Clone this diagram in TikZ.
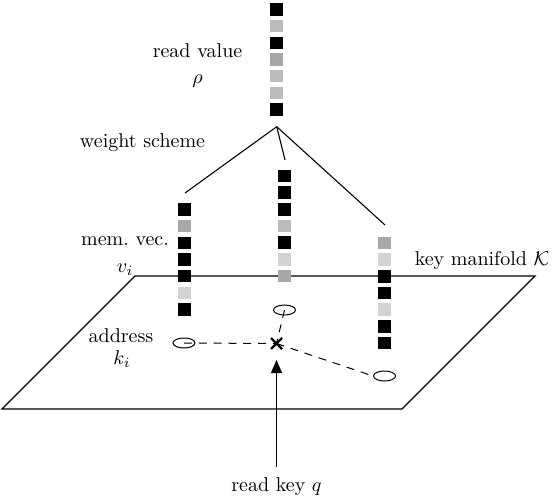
\documentclass[tikz,border=0pt]{standalone}
\usetikzlibrary{arrows.meta,shapes.geometric,calc}
\definecolor{gm}{HTML}{A8A8A8}
\definecolor{gl}{HTML}{BCBCBC}
\definecolor{gx}{HTML}{D3D3D3}
\definecolor{bk}{HTML}{000000}
\tikzset{
  sq/.style={rectangle,inner sep=0pt,minimum size=6.25pt,draw=none},
  addr/.style={ellipse,draw,line width=0.5pt,inner sep=0pt,minimum width=11pt,minimum height=5pt},
  lbl/.style={anchor=base,inner sep=0pt,font=\normalsize},
  link/.style={line width=0.55pt},
  dashlink/.style={dash pattern=on 4pt off 3.4pt,line width=0.5pt},
}
\begin{document}
\begin{tikzpicture}[x=0.5pt,y=-0.5pt]
\useasboundingbox (0,0) rectangle (555,496);
% key manifold plane
\draw[link] (135,276) coordinate (p1) -- (535,276) coordinate (p2) -- (402,409) coordinate (p3) -- (2,409) coordinate (p4) -- cycle;
% read value column
\foreach \c [count=\i] in {bk,gl,bk,gm,gl,gl,bk}
  \node[sq,fill=\c] (T\i) at (276.5,{9.5+(\i-1)*16.67}) {};
% memory columns
\foreach \c [count=\i] in {bk,gm,bk,bk,bk,gx,bk}
  \node[sq,fill=\c] (L\i) at (184.5,{209.5+(\i-1)*16.67}) {};
\foreach \c [count=\i] in {bk,bk,bk,gl,bk,gx,gm}
  \node[sq,fill=\c] (M\i) at (284.5,{176+(\i-1)*16.67}) {};
\foreach \c [count=\i] in {gm,gx,bk,bk,gx,bk,bk}
  \node[sq,fill=\c] (R\i) at (384.5,{243+(\i-1)*16.67}) {};
% weight scheme lines
\coordinate (apex) at (276.7,126.7);
\coordinate (lt) at (185,193);
\coordinate (mt) at (285,160);
\coordinate (rt) at (385,225);
\draw[link] (lt) -- (apex) -- (rt);
\draw[link] (apex) -- (mt);
% addresses
\node[addr] (eL) at (184,343) {};
\node[addr] (eM) at (284.5,310) {};
\node[addr] (eR) at (384.5,376) {};
\coordinate (q) at (276.5,343.5);
\draw[dashlink] (eL.center) -- (q);
\draw[dashlink] (eM.center) -- (q);
\draw[dashlink] (q) -- (eR.west);
\draw[line width=1.2pt] ($(q)+(-5.5,-5.5)$) -- ($(q)+(5.5,5.5)$) ($(q)+(-5.5,5.5)$) -- ($(q)+(5.5,-5.5)$);
% read key arrow
\coordinate (qb) at (276.5,467);
\coordinate (qt) at (276.5,360);
\draw[link,-{Triangle[length=6.5pt,width=5.5pt]}] (qb) -- (qt);
% labels
\node[lbl] (rv) at (197.5,58) {read value};
\node[lbl] (rho) at (197.5,84) {$\rho$};
\node[lbl] (ws) at (142.5,148) {weight scheme};
\node[lbl] (mv) at (125,245) {mem.\ vec.};
\node[lbl] (vi) at (125,272) {$v_i$};
\node[lbl] (ad) at (121,342) {address};
\node[lbl] (ki) at (122,364) {$k_i$};
\node[lbl] (km) at (482,265) {key manifold $\mathcal{K}$};
\node[lbl] (rk) at (276.5,491) {read key $q$};
\end{tikzpicture}
\end{document}
